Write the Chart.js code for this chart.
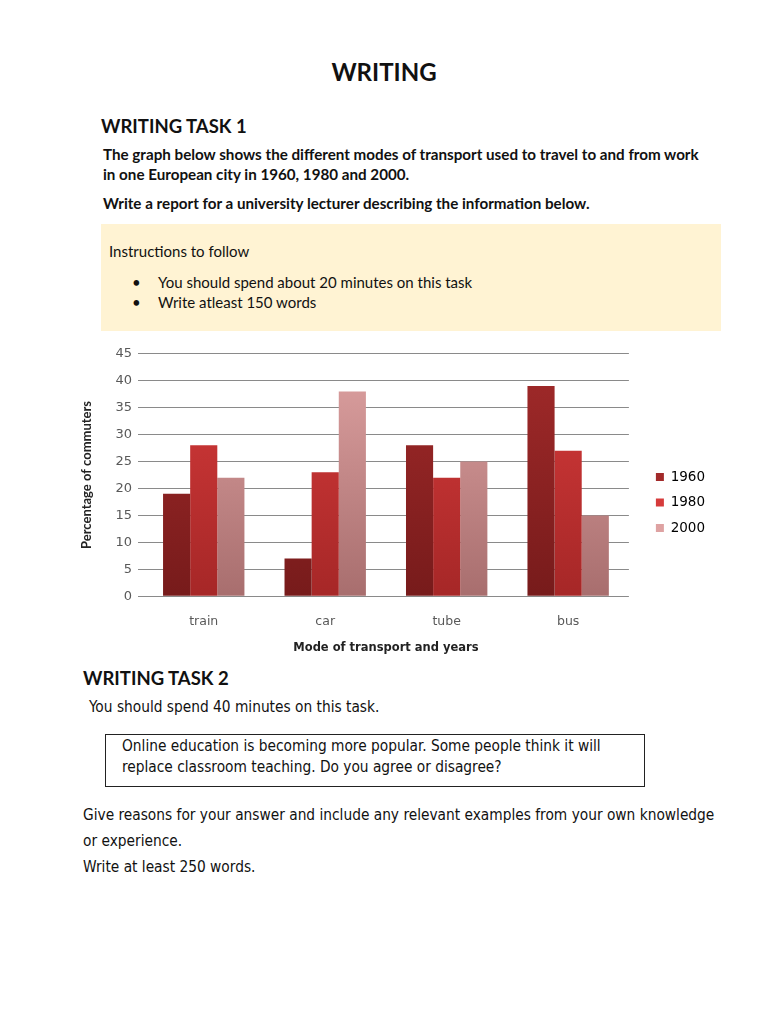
<!DOCTYPE html>
<html>
<head>
<meta charset="utf-8">
<script src="https://cdn.jsdelivr.net/npm/chart.js@4"></script>
<style>
  html, body { margin: 0; padding: 0; background: #fff; }
  body { width: 768px; height: 1024px; position: relative; overflow: hidden; color: #111; }
  .t { position: absolute; white-space: nowrap; }
  .cal { font-family: Lato, "Open Sans", sans-serif; }
  .tah { font-family: "DejaVu Sans", sans-serif; font-stretch: condensed; }
  #yellow { position: absolute; left: 101px; top: 224px; width: 620px; height: 107px; background: #fff3d3; }
  #qbox { position: absolute; left: 105px; top: 734px; width: 538px; height: 51px; border: 1px solid #222; }
  #chartWrap { position: absolute; left: 75px; top: 340px; width: 660px; height: 320px; }
</style>
</head>
<body>
<div class="t cal" style="left:0;width:768px;text-align:center;top:57px;font-size:24px;font-weight:700;">WRITING</div>
<div class="t cal" style="left:101px;top:115px;font-size:18.5px;font-weight:700;">WRITING TASK 1</div>
<div class="t cal" style="left:103px;top:144px;font-size:15.2px;font-weight:700;line-height:20px;">The graph below shows the different modes of transport used to travel to and from work<br>in one European city in 1960, 1980 and 2000.</div>
<div class="t cal" style="left:103px;top:194px;font-size:15.2px;font-weight:700;">Write a report for a university lecturer describing the information below.</div>
<div id="yellow"></div>
<div class="t cal" style="left:109px;top:242px;font-size:15px;">Instructions to follow</div>
<div class="t cal" style="left:132px;top:273px;font-size:15px;">&#8226;</div>
<div class="t cal" style="left:158px;top:273px;font-size:15px;">You should spend about 20 minutes on this task</div>
<div class="t cal" style="left:132px;top:293px;font-size:15px;">&#8226;</div>
<div class="t cal" style="left:158px;top:293px;font-size:15px;">Write atleast 150 words</div>

<div id="chartWrap"><canvas id="chart"></canvas></div>

<div class="t cal" style="left:83px;top:667px;font-size:18.5px;font-weight:700;">WRITING TASK 2</div>
<div class="t tah" style="left:89px;top:698px;font-size:15.3px;">You should spend 40 minutes on this task.</div>
<div id="qbox"></div>
<div class="t tah" style="left:122px;top:736px;font-size:15.3px;line-height:21px;">Online education is becoming more popular. Some people think it will<br>replace classroom teaching. Do you agree or disagree?</div>
<div class="t tah" style="left:83px;top:802px;font-size:15.3px;line-height:26px;">Give reasons for your answer and include any relevant examples from your own knowledge<br>or experience.<br>Write at least 250 words.</div>

<script>
// chart data
const modes = ['train', 'car', 'tube', 'bus']
const years = ['1960', '1980', '2000']
const values1960 = [19, 7, 28, 39]
const values1980 = [28, 23, 22, 27]
const values2000 = [22, 38, 25, 15]
const yTicks = [0, 5, 10, 15, 20, 25, 30, 35, 40, 45]

// top and bottom colours of each year's bars
const shades = [
    ['#a22a2a', '#771b1b'],
    ['#d63b3b', '#a62727'],
    ['#dea2a2', '#a86e6e']
]

function barFill(i) {
    return function (ctx) {
        const area = ctx.chart.chartArea
        if (!area) return shades[i][0]
        const g = ctx.chart.ctx.createLinearGradient(0, area.top, 0, area.bottom)
        g.addColorStop(0, shades[i][0])
        g.addColorStop(1, shades[i][1])
        return g
    }
}

const allValues = [values1960, values1980, values2000]

new Chart(document.getElementById('chart'), {
    type: 'bar',
    data: {
        labels: modes,
        datasets: years.map((y, i) => ({
            label: y,
            data: allValues[i],
            backgroundColor: barFill(i),
            borderWidth: 0
        }))
    },
    options: {
        responsive: true,
        maintainAspectRatio: false,
        animation: false,
        layout: { padding: { top: 6, right: 20, bottom: 1 } },
        datasets: { bar: { categoryPercentage: 0.67, barPercentage: 1 } },
        plugins: {
            tooltip: { enabled: false },
            legend: {
                position: 'right',
                labels: {
                    boxWidth: 8,
                    boxHeight: 8,
                    padding: 12,
                    color: '#404040',
                    font: { family: 'DejaVu Sans', size: 13.5 },
                    generateLabels: chart => years.map((y, i) => ({
                        text: y,
                        fillStyle: shades[i][0],
                        strokeStyle: shades[i][0],
                        lineWidth: 0,
                        datasetIndex: i
                    }))
                }
            }
        },
        scales: {
            x: {
                grid: { display: false },
                border: { display: false },
                ticks: { color: '#595959', font: { family: 'DejaVu Sans', size: 12.5 }, padding: 10 },
                title: {
                    display: true,
                    text: 'Mode of transport and years',
                    color: '#222',
                    font: { family: 'DejaVu Sans', size: 11.5, weight: 'bold' },
                    padding: { top: 2 }
                }
            },
            y: {
                min: 0,
                max: 45,
                afterBuildTicks: axis => { axis.ticks = yTicks.map(v => ({ value: v })) },
                afterFit: axis => { axis.width = 68 },
                grid: { color: '#8a8a8a', lineWidth: 1, tickLength: 5 },
                border: { display: false },
                ticks: { color: '#595959', font: { family: 'DejaVu Sans', size: 13 }, padding: 6 },
                title: {
                    display: true,
                    text: 'Percentage of commuters',
                    color: '#222',
                    font: { family: 'Lato', size: 13, weight: 'bold' },
                    padding: { top: 4, bottom: 4 }
                }
            },
            // empty axis that keeps the gap between plot and legend
            gap: {
                position: 'right',
                grid: { display: false },
                border: { display: false },
                ticks: { display: false },
                afterFit: axis => { axis.width = 15 }
            }
        }
    }
})
</script>
</body>
</html>
